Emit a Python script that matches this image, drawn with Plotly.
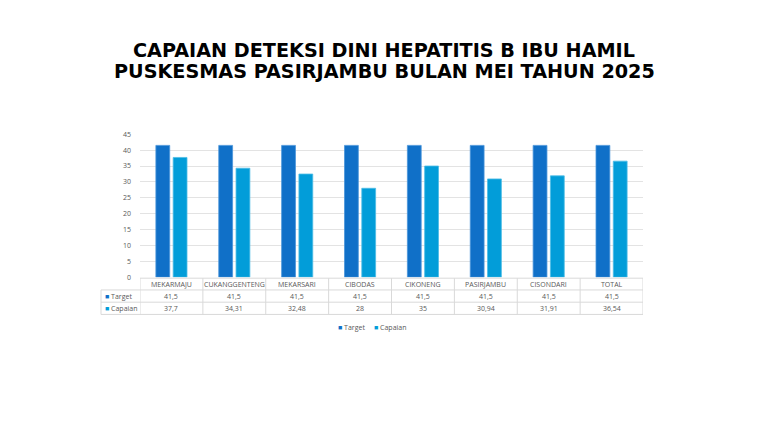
import plotly.graph_objects as go

categories = ["MEKARMAJU", "CUKANGGENTENG", "MEKARSARI", "CIBODAS", "CIKONENG", "PASIRJAMBU", "CISONDARI", "TOTAL"]
target = [41.5, 41.5, 41.5, 41.5, 41.5, 41.5, 41.5, 41.5]
capaian = [37.7, 34.31, 32.48, 28, 35, 30.94, 31.91, 36.54]
series_names = ["Target", "Capaian"]
title_lines = ["CAPAIAN DETEKSI DINI HEPATITIS B IBU HAMIL", "PUSKESMAS PASIRJAMBU BULAN MEI TAHUN 2025"]

W, H = 768, 433
C_T = "#1070C8"
C_C = "#029DD9"
GRID = "#E3E3E3"
TXT = "#595959"

def px_x(x):
    return x / W

def px_y(y):
    return (H - y) / H

def fmt(v):
    return ("%g" % v).replace(".", ",")

fig = go.Figure()
fig.add_trace(go.Bar(x=categories, y=target, name=series_names[0], marker=dict(color=C_T, line=dict(color="#4A95DA", width=0.8))))
fig.add_trace(go.Bar(x=categories, y=capaian, name=series_names[1], marker=dict(color=C_C, line=dict(color="#4DBCE6", width=0.8))))

x0, x1 = 140, 643
y_top, y_bot = 132, 278
n = len(categories)

fig.update_layout(
    width=W, height=H,
    margin=dict(l=0, r=0, t=0, b=0),
    paper_bgcolor="white", plot_bgcolor="white",
    barmode="group", bargap=0.45, bargroupgap=0.2,
    showlegend=False,
    xaxis=dict(domain=[px_x(x0), px_x(x1)], range=[-0.5, n - 0.5], showticklabels=False,
               showgrid=False, zeroline=False, showline=False, ticks=""),
    yaxis=dict(domain=[px_y(y_bot), px_y(y_top)], range=[0, 45], dtick=5, showgrid=True,
               gridcolor=GRID, gridwidth=1, zeroline=False, showline=False,
               tickfont=dict(size=7, color=TXT, family="Open Sans"), ticklen=0, ticks="",
               ticklabelstandoff=8),
    font=dict(family="Open Sans"),
)

# Title
for line, yc in zip(title_lines, [46, 68]):
    fig.add_annotation(text="<b>" + line + "</b>", xref="paper", yref="paper",
                       x=0.5, y=px_y(yc), xanchor="center", yanchor="middle", showarrow=False,
                       borderpad=0, font=dict(size=19.2, color="black", family="DejaVu Sans"))

# Data table
rows_y = [279, 291, 303.5, 316]
line_style = dict(color="#D9D9D9", width=1)
shapes = []
shapes.append(dict(type="line", xref="paper", yref="paper", x0=px_x(x0), x1=px_x(x1),
                   y0=px_y(rows_y[0]), y1=px_y(rows_y[0]), line=line_style))
for ry in rows_y[1:]:
    shapes.append(dict(type="line", xref="paper", yref="paper", x0=px_x(101), x1=px_x(x1),
                       y0=px_y(ry), y1=px_y(ry), line=line_style))
for i in range(n + 1):
    shapes.append(dict(type="line", xref="x", yref="paper", x0=i - 0.5, x1=i - 0.5,
                       y0=px_y(rows_y[0]), y1=px_y(rows_y[3]), line=line_style))
shapes.append(dict(type="line", xref="paper", yref="paper", x0=px_x(101), x1=px_x(101),
                   y0=px_y(rows_y[1]), y1=px_y(rows_y[3]), line=line_style))
fig.update_layout(shapes=shapes)

tf = dict(size=7, color=TXT, family="Open Sans")
for i, c in enumerate(categories):
    fig.add_annotation(text=c, xref="x", yref="paper", x=i, y=px_y((rows_y[0] + rows_y[1]) / 2),
                       showarrow=False, font=tf, xanchor="center", yanchor="middle")
    fig.add_annotation(text=fmt(target[i]), xref="x", yref="paper", x=i, y=px_y((rows_y[1] + rows_y[2]) / 2),
                       showarrow=False, font=tf, xanchor="center", yanchor="middle")
    fig.add_annotation(text=fmt(capaian[i]), xref="x", yref="paper", x=i, y=px_y((rows_y[2] + rows_y[3]) / 2),
                       showarrow=False, font=tf, xanchor="center", yanchor="middle")

for k, (name, col) in enumerate(zip(series_names, [C_T, C_C])):
    yc = (rows_y[1 + k] + rows_y[2 + k]) / 2
    fig.add_annotation(text='<span style="color:%s">■</span> %s' % (col, name), xref="paper", yref="paper",
                       x=px_x(103), y=px_y(yc), showarrow=False, font=tf, xanchor="left", yanchor="middle")

# Legend (below table)
leg_x = [336, 372]
for name, col, lx in zip(series_names, [C_T, C_C], leg_x):
    fig.add_annotation(text='<span style="color:%s">■</span> %s' % (col, name), xref="paper", yref="paper",
                       x=px_x(lx), y=px_y(329), showarrow=False, font=tf, xanchor="left", yanchor="middle")

fig.write_html("out.html")
